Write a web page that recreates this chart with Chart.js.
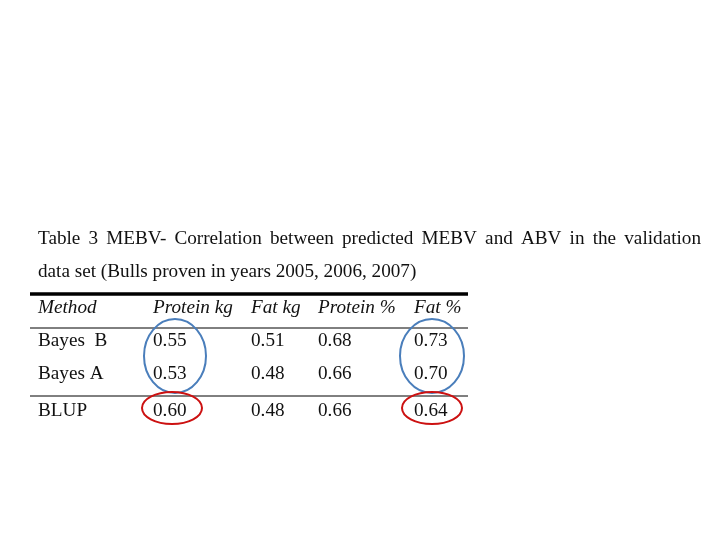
<!DOCTYPE html>
<html>
<head>
<meta charset="utf-8">
<script src="https://cdn.jsdelivr.net/npm/chart.js@4"></script>
<style>
  html, body { margin: 0; padding: 0; background: #fff; }
  #wrap { width: 720px; height: 540px; }
</style>
</head>
<body>
<div id="wrap"><canvas id="tableChart"></canvas></div>
<script>
// Table data
const titleLines = ['Table 3 MEBV- Correlation between predicted MEBV and ABV in the validation',
                    'data set (Bulls proven in years 2005, 2006, 2007)'];
const columns = ['Method', 'Protein kg', 'Fat kg', 'Protein %', 'Fat %'];
const methods = ['Bayes  B', 'Bayes A', 'BLUP'];
const proteinKg = ['0.55', '0.53', '0.60'];
const fatKg = ['0.51', '0.48', '0.48'];
const proteinPct = ['0.68', '0.66', '0.66'];
const fatPct = ['0.73', '0.70', '0.64'];

// Layout (page units, drawn through the chart's scales)
const colX = [38, 153, 251, 318, 414];
const rowY = [346, 379, 416];
const headerY = 313;
const serif = '"Liberation Serif", "DejaVu Serif", serif';
const fontSize = '19.2px ';

const tablePlugin = {
    id: 'tablePlugin',
    afterDraw(chart) {
        const ctx = chart.ctx;
        const sx = chart.scales.x, sy = chart.scales.y;
        const X = v => sx.getPixelForValue(v);
        const Y = v => sy.getPixelForValue(v);
        ctx.save();
        ctx.fillStyle = '#111';
        ctx.textBaseline = 'alphabetic';

        // Title, first line justified
        ctx.font = fontSize + serif;
        const words = titleLines[0].split(' ');
        const wordsW = words.reduce((s, w) => s + ctx.measureText(w).width, 0);
        const gap = (X(701) - X(38) - wordsW) / (words.length - 1);
        let x = X(38);
        words.forEach(w => { ctx.fillText(w, x, Y(244)); x += ctx.measureText(w).width + gap; });
        ctx.fillText(titleLines[1], X(38), Y(277));

        // Rules
        ctx.strokeStyle = '#000';
        ctx.lineWidth = 3.5;
        ctx.beginPath(); ctx.moveTo(X(30), Y(294)); ctx.lineTo(X(468), Y(294)); ctx.stroke();
        ctx.lineWidth = 1;
        [328, 396].forEach(y => {
            ctx.beginPath(); ctx.moveTo(X(30), Y(y)); ctx.lineTo(X(468), Y(y)); ctx.stroke();
        });

        // Header
        ctx.font = 'italic ' + fontSize + serif;
        columns.forEach((c, i) => ctx.fillText(c, X(colX[i]), Y(headerY)));

        // Body
        ctx.font = fontSize + serif;
        const cols = [methods, proteinKg, fatKg, proteinPct, fatPct];
        rowY.forEach((y, r) => cols.forEach((col, i) => ctx.fillText(col[r], X(colX[i]), Y(y))));

        // Highlight ellipses
        const ell = (cx, cy, rx, ry, color) => {
            ctx.strokeStyle = color; ctx.lineWidth = 2;
            ctx.beginPath();
            ctx.ellipse(X(cx), Y(cy), Math.abs(X(cx + rx) - X(cx)), Math.abs(Y(cy + ry) - Y(cy)), 0, 0, Math.PI * 2);
            ctx.stroke();
        };
        ell(175, 356, 31, 37, '#4a7ebb');
        ell(432, 356, 32, 37, '#4a7ebb');
        ell(172, 408, 30, 16, '#cc1111');
        ell(432, 408, 30, 16, '#cc1111');
        ctx.restore();
    }
};

new Chart(document.getElementById('tableChart'), {
    type: 'scatter',
    data: { datasets: [{ data: [], pointRadius: 0 }] },
    options: {
        responsive: true,
        maintainAspectRatio: false,
        animation: false,
        layout: { padding: 0 },
        plugins: { legend: { display: false }, tooltip: { enabled: false } },
        scales: {
            x: { type: 'linear', min: 0, max: 720, display: false },
            y: { type: 'linear', min: 0, max: 540, reverse: true, display: false }
        }
    },
    plugins: [tablePlugin]
});
</script>
</body>
</html>
